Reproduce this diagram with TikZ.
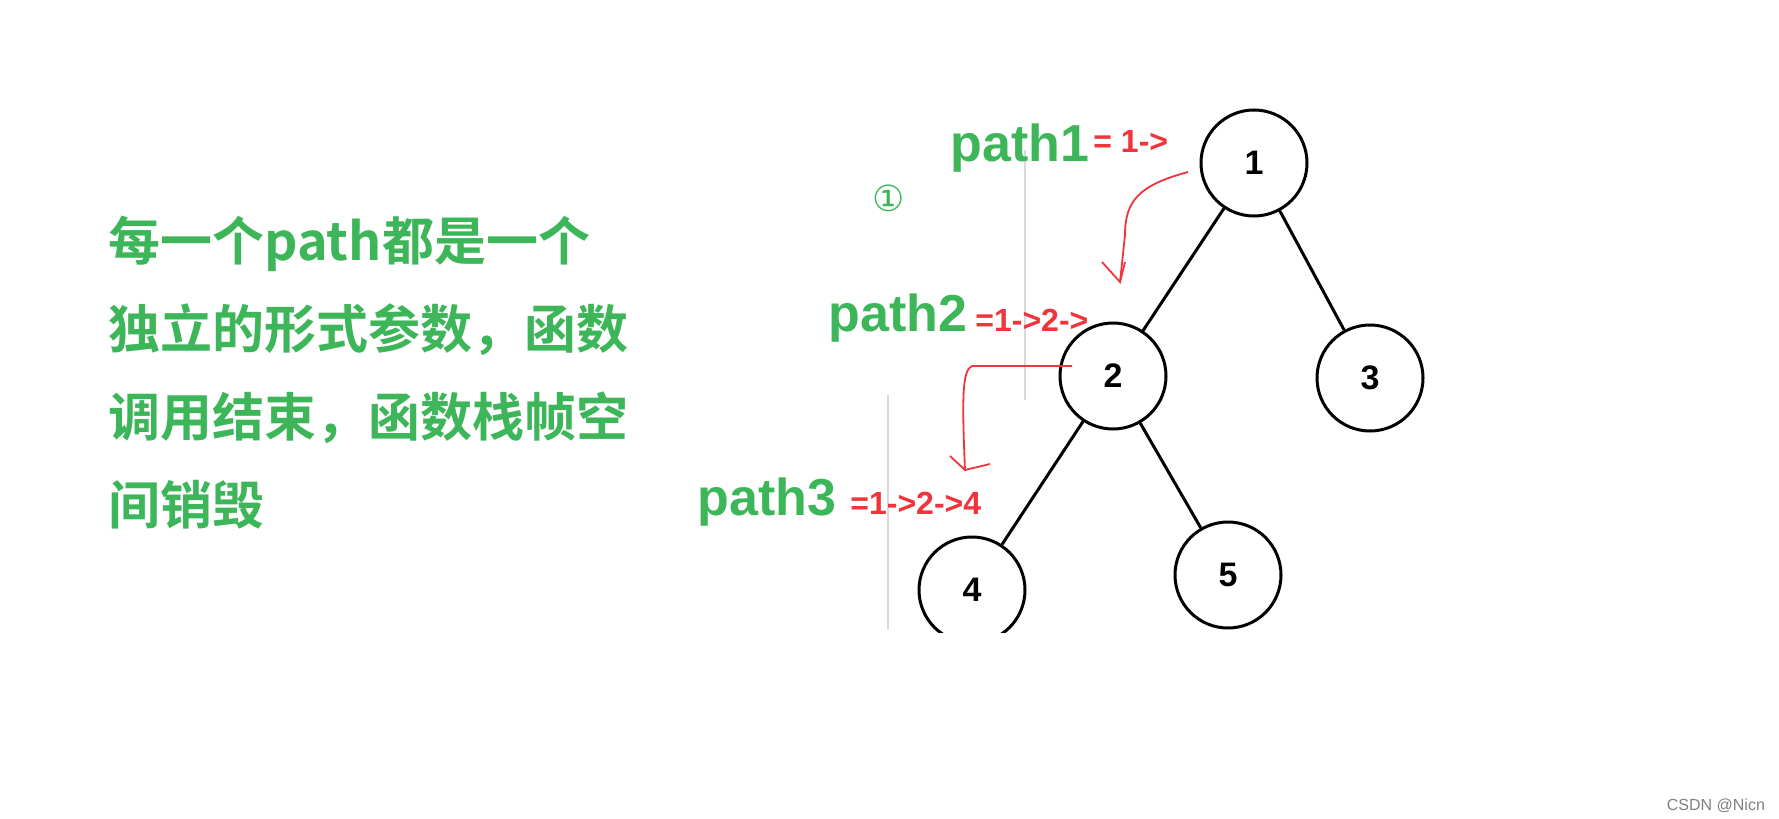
\documentclass[tikz,border=0pt]{standalone}
\usepackage{fontspec}
\setmainfont{Liberation Sans}
\newfontfamily\cjk{Noto Sans CJK SC}[BoldFont={* Bold}]
\usetikzlibrary{arrows.meta}
\definecolor{gr}{HTML}{3DB65A}
\definecolor{rd}{HTML}{F0343C}
\tikzset{
 tn/.style={circle,draw,line width=1.5pt,minimum size=53pt,inner sep=0pt,font=\bfseries\fontsize{17}{17}\selectfont},
 gl/.style={text=gr,font=\bfseries\fontsize{26}{26}\selectfont,inner sep=0pt},
 rl/.style={text=rd,font=\bfseries\fontsize{16}{16}\selectfont,inner sep=0pt},
 red/.style={draw=rd,line width=0.9pt}
}
\begin{document}
\begin{tikzpicture}[x=0.5pt,y=-0.5pt]
\useasboundingbox (0,0) rectangle (1779,819);
\draw[gray!30,line width=0.6pt] (1025,150) -- (1025,400) (888,395) -- (888,630);
\begin{scope}
\clip (0,0) rectangle (1779,632);
\node[tn] (n1) at (1254,163) {1};
\node[tn] (n2) at (1113,376) {2};
\node[tn] (n3) at (1370,378) {3};
\node[tn] (n4) at (972,590) {4};
\node[tn] (n5) at (1228,575) {5};
\draw[line width=1.5pt] (n1) -- (n2) (n1) -- (n3) (n2) -- (n4) (n2) -- (n5);
\end{scope}
\node[gl,anchor=west] (t1) at (108,244) {\cjk\bfseries 每一个path都是一个};
\node[gl,anchor=west] (t2) at (108,330) {\cjk\bfseries 独立的形式参数，函数};
\node[gl,anchor=west] (t3) at (108,418) {\cjk\bfseries 调用结束，函数栈帧空};
\node[gl,anchor=west] (t4) at (108,505) {\cjk\bfseries 间销毁};
\node[gl,anchor=west] (p1) at (950,148) {path1};
\node[rl,anchor=west] (r1) at (1093,141) {= 1->};
\node[gl,anchor=west,font=\fontsize{18}{18}\selectfont] (c1) at (872,198) {\fontspec{DejaVu Sans}①};
\node[gl,anchor=west] (p2) at (828,318) {path2};
\node[rl,anchor=west] (r2) at (975,320) {=1->2->};
\node[gl,anchor=west] (p3) at (697,502) {path3};
\node[rl,anchor=west] (r3) at (850,503) {=1->2->4};
\coordinate (a0) at (1188,172);
\coordinate (a1) at (1120,282);
\draw[red] (a0) .. controls (1140,185) and (1125,200) .. (1125,235) -- (a1);
\draw[red] (1102,262) -- (a1) -- (1125,262);
\coordinate (b0) at (1072,366);
\coordinate (b1) at (965,470);
\draw[red] (b0) -- (972,366) .. controls (962,370) and (962,400) .. (b1);
\draw[red] (950,456) -- (b1) -- (990,464);
\node[text=gray,font=\fontsize{8}{8}\selectfont,anchor=east] (wm) at (1772,806) {CSDN @Nicn};
\end{tikzpicture}
\end{document}
